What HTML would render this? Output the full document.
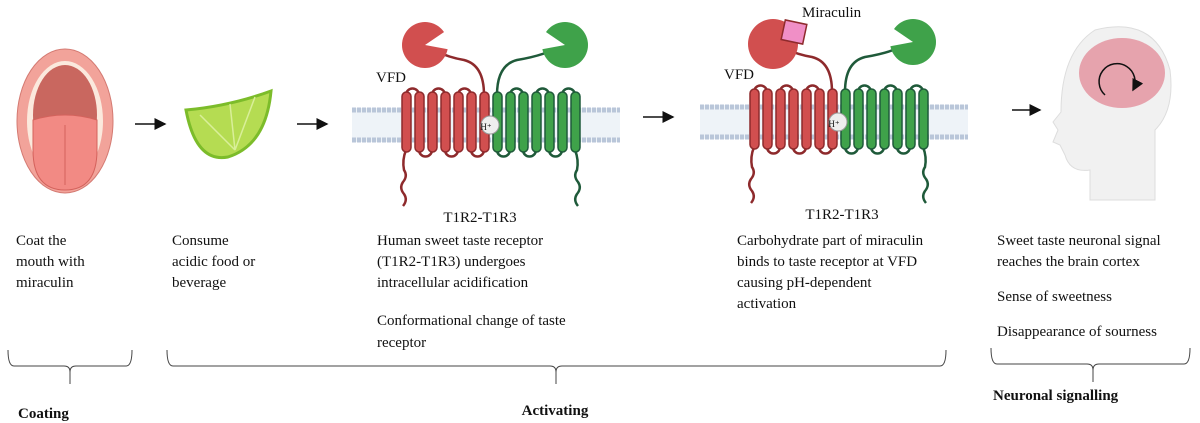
<!DOCTYPE html>
<html><head><meta charset="utf-8"><style>
body{margin:0;background:#fff}
svg{display:block}
text{font-family:"Liberation Serif",serif;font-size:15px;fill:#111}
.b{font-weight:bold}
</style></head><body>
<svg width="1200" height="423" viewBox="0 0 1200 423" xmlns="http://www.w3.org/2000/svg">
<defs>
<marker id="ar" markerWidth="8" markerHeight="8" refX="7" refY="4" orient="auto"><path d="M0,0 L8,4 L0,8z" fill="#111"/></marker>
<g id="rec">
  <rect x="352" y="108" width="268" height="34" fill="#eef3f8"/>
  <line x1="352" y1="110" x2="620" y2="110" stroke="#b9c6d9" stroke-width="5" stroke-dasharray="4 1"/>
  <line x1="352" y1="140" x2="620" y2="140" stroke="#b9c6d9" stroke-width="5" stroke-dasharray="4 1"/>
  <g fill="none" stroke="#8e2a2c" stroke-width="2.5">
    <path d="M406,95 a6.5,6.5 0 0 1 13,0 M432,95 a6.5,6.5 0 0 1 13,0 M458,95 a6.5,6.5 0 0 1 13,0"/>
    <path d="M419,150 a6.5,6.5 0 0 0 13,0 M445,150 a6.5,6.5 0 0 0 13,0 M471,150 a6.5,6.5 0 0 0 13,0"/>
    <path d="M406,150 q-4,10 -2,20 q4,6 -1,12 q-4,6 1,12 q4,6 -1,12"/>
    <path d="M484,95 q0,-30 -20,-35 q-30,-5 -50,-25"/>
  </g>
  <g fill="#d14f4f" stroke="#8e2a2c" stroke-width="1.5">
    <rect x="402" y="92" width="9" height="60" rx="4.5"/><rect x="415" y="92" width="9" height="60" rx="4.5"/>
    <rect x="428" y="92" width="9" height="60" rx="4.5"/><rect x="441" y="92" width="9" height="60" rx="4.5"/>
    <rect x="454" y="92" width="9" height="60" rx="4.5"/><rect x="467" y="92" width="9" height="60" rx="4.5"/>
    <rect x="480" y="92" width="9" height="60" rx="4.5"/>
  </g>
  <g fill="none" stroke="#1f5a3a" stroke-width="2.5">
    <path d="M510,95 a6.5,6.5 0 0 1 13,0 M536,95 a6.5,6.5 0 0 1 13,0 M562,95 a6.5,6.5 0 0 1 13,0"/>
    <path d="M497,150 a6.5,6.5 0 0 0 13,0 M523,150 a6.5,6.5 0 0 0 13,0 M549,150 a6.5,6.5 0 0 0 13,0"/>
    <path d="M575,150 q4,10 2,20 q-4,6 1,12 q4,6 -1,12 q-4,6 1,12"/>
    <path d="M497,95 q0,-30 20,-35 q30,-5 45,-15"/>
  </g>
  <g fill="#3fa24a" stroke="#1f5a3a" stroke-width="1.5">
    <rect x="493" y="92" width="9" height="60" rx="4.5"/><rect x="506" y="92" width="9" height="60" rx="4.5"/>
    <rect x="519" y="92" width="9" height="60" rx="4.5"/><rect x="532" y="92" width="9" height="60" rx="4.5"/>
    <rect x="545" y="92" width="9" height="60" rx="4.5"/><rect x="558" y="92" width="9" height="60" rx="4.5"/>
    <rect x="571" y="92" width="9" height="60" rx="4.5"/>
  </g>
  <circle cx="490" cy="125" r="9" fill="#eee" stroke="#999"/>
</g>
</defs>

<!-- mouth -->
<ellipse cx="65" cy="121" rx="48" ry="72" fill="#f2a39a" stroke="#d47a72"/>
<ellipse cx="65" cy="121" rx="38" ry="60" fill="#fbe9dd"/>
<ellipse cx="65" cy="115" rx="32" ry="50" fill="#c9675f"/>
<path d="M33,120 q32,-10 64,0 v30 q0,40 -32,40 q-32,0 -32,-40z" fill="#f28a84" stroke="#d4625c"/>
<line x1="65" y1="125" x2="65" y2="185" stroke="#d4625c"/>

<line x1="135" y1="124" x2="165" y2="124" stroke="#111" stroke-width="1.5" marker-end="url(#ar)"/>
<!-- lime -->
<path d="M186,110 Q230,106 271,91 Q266,145 228,157 Q196,163 186,110z" fill="#b5dc52" stroke="#7cbc2a" stroke-width="3"/>
<path d="M200,115 L235,150 M230,104 L235,150 M255,97 L235,150" stroke="#d9ef99" stroke-width="1.5"/>
<line x1="297" y1="124" x2="327" y2="124" stroke="#111" stroke-width="1.5" marker-end="url(#ar)"/>

<use href="#rec"/>
<circle cx="425" cy="45" r="23" fill="#d14f4f"/><path d="M425,45 L450,28 L452,50z" fill="#fff"/>
<circle cx="565" cy="45" r="23" fill="#3fa24a"/><path d="M565,45 L540,28 L538,50z" fill="#fff"/>
<text x="376" y="82">VFD</text>
<text x="486" y="130" style="font-size:9px" text-anchor="middle">H⁺</text>
<text x="480" y="222" text-anchor="middle">T1R2-T1R3</text>

<line x1="643" y1="117" x2="673" y2="117" stroke="#111" stroke-width="1.5" marker-end="url(#ar)"/>

<use href="#rec" transform="translate(348,-3)"/>
<circle cx="773" cy="44" r="25" fill="#d14f4f"/>
<rect x="783" y="22" width="22" height="20" fill="#f08fc6" stroke="#8e2a2c" stroke-width="1.5" transform="rotate(12 794 32)"/>
<circle cx="913" cy="42" r="23" fill="#3fa24a"/><path d="M913,42 L888,25 L886,47z" fill="#fff"/>
<text x="724" y="79">VFD</text>
<text x="802" y="17">Miraculin</text>
<text x="834" y="127" style="font-size:9px" text-anchor="middle">H⁺</text>
<text x="842" y="219" text-anchor="middle">T1R2-T1R3</text>

<line x1="1012" y1="110" x2="1040" y2="110" stroke="#111" stroke-width="1.5" marker-end="url(#ar)"/>
<!-- head -->
<path d="M1095,30 q60,-15 75,40 q5,40 -15,60 v70 h-65 v-30 q-20,3 -25,-15 l-5,-10 l-7,-3 l5,-12 l-5,-8 l8,-10 q0,-60 34,-82z" fill="#f1f1f1" stroke="#ddd"/>
<ellipse cx="1122" cy="73" rx="43" ry="35" fill="#e6a3ad"/>
<path d="M1105,95 a18,18 0 1 1 28,-5" fill="none" stroke="#111" stroke-width="1.5" marker-end="url(#ar)"/>

<!-- text -->
<text x="16" y="245">Coat the</text><text x="16" y="266">mouth with</text><text x="16" y="287">miraculin</text>
<text x="172" y="245">Consume</text><text x="172" y="266">acidic food or</text><text x="172" y="287">beverage</text>
<text x="377" y="245">Human sweet taste receptor</text><text x="377" y="266">(T1R2-T1R3) undergoes</text><text x="377" y="287">intracellular acidification</text>
<text x="377" y="325">Conformational change of taste</text><text x="377" y="347">receptor</text>
<text x="737" y="245">Carbohydrate part of miraculin</text><text x="737" y="266">binds to taste receptor at VFD</text><text x="737" y="287">causing pH-dependent</text><text x="737" y="308">activation</text>
<text x="997" y="245">Sweet taste neuronal signal</text>
<text x="997" y="266">reaches the brain cortex</text>
<text x="997" y="301">Sense of sweetness</text>
<text x="997" y="336">Disappearance of sourness</text>

<g fill="none" stroke="#444" stroke-width="1">
<path d="M8,350 q0,16 6,16 h50 q6,0 6,6 v12 M70,372 q0,-6 6,-6 h50 q6,0 6,-16"/>
<path d="M167,350 q0,16 6,16 h377 q6,0 6,6 v12 M556,372 q0,-6 6,-6 h378 q6,0 6,-16"/>
<path d="M991,348 q0,16 6,16 h90 q6,0 6,6 v12 M1093,370 q0,-6 6,-6 h85 q6,0 6,-16"/>
</g>
<text x="18" y="418" class="b">Coating</text>
<text x="555" y="415" class="b" text-anchor="middle">Activating</text>
<text x="993" y="400" class="b">Neuronal signalling</text>
</svg>
</body></html>
